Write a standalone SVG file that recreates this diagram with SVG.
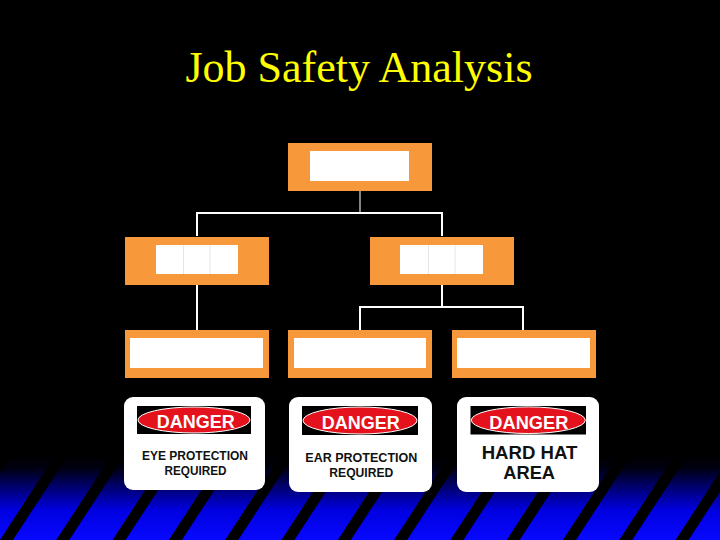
<svg xmlns="http://www.w3.org/2000/svg" width="720" height="540" viewBox="0 0 720 540">
  <defs>
    <linearGradient id="band" x1="0" y1="455" x2="0" y2="540" gradientUnits="userSpaceOnUse">
      <stop offset="0" stop-color="#000000"/>
      <stop offset="0.15" stop-color="#000010"/>
      <stop offset="0.65" stop-color="#0000e0"/>
      <stop offset="1" stop-color="#0808ff"/>
    </linearGradient>
    <style>
      .box{fill:#F7993A}
      .inner{fill:#ffffff}
      .cell{stroke:#e6e6e6;stroke-width:1}
      .conn{fill:none;stroke:#ffffff;stroke-width:2}
      .stripe{fill:#000000}
      .sign{fill:#ffffff}
      .band{fill:#000000}
      .oval{fill:#E3121C;stroke:#ffffff;stroke-width:1}
      .danger{font-family:"Liberation Sans",Arial,sans-serif;font-weight:bold;font-size:19px;fill:#ffffff;text-anchor:middle}
      .msg{font-family:"Liberation Sans",Arial,sans-serif;font-weight:bold;fill:#111111;text-anchor:middle}
      .title{font-family:"Liberation Serif","Times New Roman",serif;font-size:44px;fill:#FFFF00;text-anchor:middle}
    </style>
  </defs>

  <rect x="0" y="0" width="720" height="540" fill="#000000"/>

  <!-- bottom blue band with diagonal stripes -->
  <g id="background-band">
    <rect x="0" y="455" width="720" height="85" fill="url(#band)"/>
    <g id="stripes">
      <polygon class="stripe" points="-56.3,540 -43.3,540 12,455 -1,455"/>
      <polygon class="stripe" points="0,540 13,540 68.3,455 55.3,455"/>
      <polygon class="stripe" points="56.3,540 69.3,540 124.6,455 111.6,455"/>
      <polygon class="stripe" points="112.6,540 125.6,540 180.9,455 167.9,455"/>
      <polygon class="stripe" points="168.9,540 181.9,540 237.2,455 224.2,455"/>
      <polygon class="stripe" points="225.2,540 238.2,540 293.5,455 280.5,455"/>
      <polygon class="stripe" points="281.5,540 294.5,540 349.8,455 336.8,455"/>
      <polygon class="stripe" points="337.8,540 350.8,540 406.1,455 393.1,455"/>
      <polygon class="stripe" points="394.1,540 407.1,540 462.4,455 449.4,455"/>
      <polygon class="stripe" points="450.4,540 463.4,540 518.7,455 505.7,455"/>
      <polygon class="stripe" points="506.7,540 519.7,540 575,455 562,455"/>
      <polygon class="stripe" points="563,540 576,540 631.3,455 618.3,455"/>
      <polygon class="stripe" points="619.3,540 632.3,540 687.6,455 674.6,455"/>
      <polygon class="stripe" points="675.6,540 688.6,540 743.9,455 730.9,455"/>
    </g>
  </g>

  <text class="title" x="359" y="82">Job Safety Analysis</text>

  <!-- connectors -->
  <g id="connectors">
    <line x1="360" y1="191" x2="360" y2="213" stroke="#b0b0b0" stroke-width="1.5"/>
    <polyline class="conn" points="197,236 197,213 442,213 442,236"/>
    <line class="conn" x1="197" y1="285" x2="197" y2="330"/>
    <line class="conn" x1="442" y1="285" x2="442" y2="307"/>
    <polyline class="conn" points="360,330 360,307 523,307 523,330"/>
  </g>

  <!-- hierarchy nodes -->
  <g id="node-top">
    <rect class="box" x="288" y="143" width="144" height="48"/>
    <rect class="inner" x="310" y="151" width="99" height="30"/>
  </g>
  <g id="node-mid-left">
    <rect class="box" x="125" y="237" width="144" height="48"/>
    <rect class="inner" x="156" y="245" width="82" height="29"/>
    <line class="cell" x1="183.5" y1="245" x2="183.5" y2="274"/>
    <line class="cell" x1="210" y1="245" x2="210" y2="274"/>
  </g>
  <g id="node-mid-right">
    <rect class="box" x="370" y="237" width="144" height="48"/>
    <rect class="inner" x="400" y="245" width="83" height="29"/>
    <line class="cell" x1="428.5" y1="245" x2="428.5" y2="274"/>
    <line class="cell" x1="455" y1="245" x2="455" y2="274"/>
  </g>
  <g id="node-bottom-left">
    <rect class="box" x="125" y="330" width="144" height="48"/>
    <rect class="inner" x="130" y="338" width="133" height="30"/>
  </g>
  <g id="node-bottom-middle">
    <rect class="box" x="288" y="330" width="144" height="48"/>
    <rect class="inner" x="294" y="338" width="132" height="30"/>
  </g>
  <g id="node-bottom-right">
    <rect class="box" x="452" y="330" width="144" height="48"/>
    <rect class="inner" x="457" y="338" width="133" height="30"/>
  </g>

  <!-- danger signs -->
  <g id="sign-eye">
    <rect class="sign" x="124" y="397" width="141" height="93" rx="9"/>
    <rect class="band" x="137" y="406" width="114" height="28"/>
    <ellipse class="oval" cx="194" cy="420" rx="56" ry="13"/>
    <text class="danger" x="195.8" y="428" textLength="78" lengthAdjust="spacingAndGlyphs">DANGER</text>
    <text class="msg" x="195" y="460.2" font-size="12.5" textLength="106" lengthAdjust="spacingAndGlyphs">EYE PROTECTION</text>
    <text class="msg" x="195.5" y="474.5" font-size="12.5" textLength="62" lengthAdjust="spacingAndGlyphs">REQUIRED</text>
  </g>
  <g id="sign-ear">
    <rect class="sign" x="289" y="397" width="143" height="95" rx="9"/>
    <rect class="band" x="302" y="406" width="116" height="29"/>
    <ellipse class="oval" cx="360" cy="420.5" rx="57" ry="13.5"/>
    <text class="danger" x="360.8" y="428.5" textLength="78" lengthAdjust="spacingAndGlyphs">DANGER</text>
    <text class="msg" x="361.3" y="462.2" font-size="12.5" textLength="112" lengthAdjust="spacingAndGlyphs">EAR PROTECTION</text>
    <text class="msg" x="361.3" y="476.5" font-size="12.5" textLength="64" lengthAdjust="spacingAndGlyphs">REQUIRED</text>
  </g>
  <g id="sign-hardhat">
    <rect class="sign" x="457" y="397" width="142" height="95" rx="9"/>
    <rect class="band" x="470.5" y="406" width="115.5" height="28.5"/>
    <ellipse class="oval" cx="528.3" cy="420.2" rx="57" ry="13.3"/>
    <text class="danger" x="528.8" y="428.5" textLength="79" lengthAdjust="spacingAndGlyphs">DANGER</text>
    <text class="msg" x="529.5" y="458.5" font-size="18" textLength="95.6" lengthAdjust="spacingAndGlyphs">HARD HAT</text>
    <text class="msg" x="529.2" y="478.8" font-size="18" textLength="51.7" lengthAdjust="spacingAndGlyphs">AREA</text>
  </g>
</svg>
